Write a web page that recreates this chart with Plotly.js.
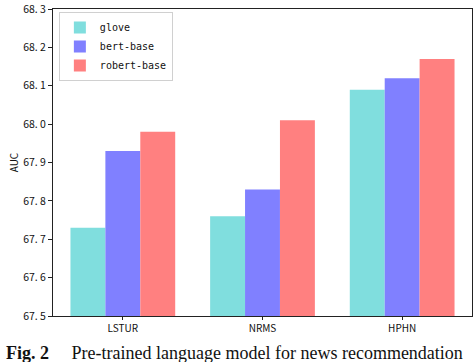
<!DOCTYPE html>
<html><head><meta charset="utf-8">
<script src="https://cdn.plot.ly/plotly-3.0.1.min.js"></script>
<style>html,body{margin:0;padding:0;background:#fff}#c{width:474px;height:362px}</style>
</head><body><div id="c"></div>
<script>
const categories = ["LSTUR", "NRMS", "HPHN"];
const glove = [67.73, 67.76, 68.09];
const bertBase = [67.93, 67.83, 68.12];
const robertBase = [67.98, 68.01, 68.17];
const yTicks = [67.5, 67.6, 67.7, 67.8, 67.9, 68.0, 68.1, 68.2, 68.3];
const yTickText = ["67. 5", "67. 6", "67. 7", "67. 8", "67. 9", "68. 0", "68. 1", "68. 2", "68. 3"];

const mk = (name, y, color) => ({type: "bar", name, x: categories, y, marker: {color, line: {width: 0}}});
const data = [
  mk("glove", glove, "#80dede"),
  mk("bert-base", bertBase, "#8080ff"),
  mk("robert-base", robertBase, "#ff8080")
];
const layout = {
  width: 474, height: 362,
  margin: {l: 53, r: 2, t: 9, b: 46},
  paper_bgcolor: "#fff", plot_bgcolor: "#fff",
  barmode: "group", bargap: 0.25, bargroupgap: 0,
  showlegend: true,
  legend: {x: 0.014, y: 0.99, xanchor: "left", yanchor: "top", bgcolor: "#fff",
    bordercolor: "#d0d0d0", borderwidth: 1,
    font: {family: "DejaVu Sans Mono", size: 10, color: "#111"}, tracegroupgap: 0, itemwidth: 30},
  xaxis: {range: [-0.5, 2.5], showline: true, mirror: true, linecolor: "#222", linewidth: 1,
    ticks: "outside", ticklen: 3, tickcolor: "#222", showgrid: false,
    tickfont: {family: "Noto Sans CJK SC", size: 10, color: "#111"}},
  yaxis: {range: [67.5, 68.3002], tickvals: yTicks, ticktext: yTickText, showline: true, mirror: true,
    linecolor: "#222", linewidth: 1, ticks: "outside", ticklen: 4, tickcolor: "#222", showgrid: false,
    zeroline: false, ticklabeloverflow: "allow", tickfont: {family: "Noto Sans CJK SC", size: 10.5, color: "#111"},
    title: {text: "AUC", font: {family: "Noto Sans CJK SC", size: 10, color: "#111"}, standoff: 2}},
  annotations: [
    {xref: "paper", yref: "paper", x: -0.1175, y: -0.12, xanchor: "left", yanchor: "middle",
     showarrow: false, text: "<b>Fig. 2</b>     Pre-trained language model for news recommendation",
     font: {family: "Liberation Serif", size: 18, color: "#111"}}
  ]
};
Plotly.newPlot("c", data, layout, {displayModeBar: false, staticPlot: true});
</script></body></html>
